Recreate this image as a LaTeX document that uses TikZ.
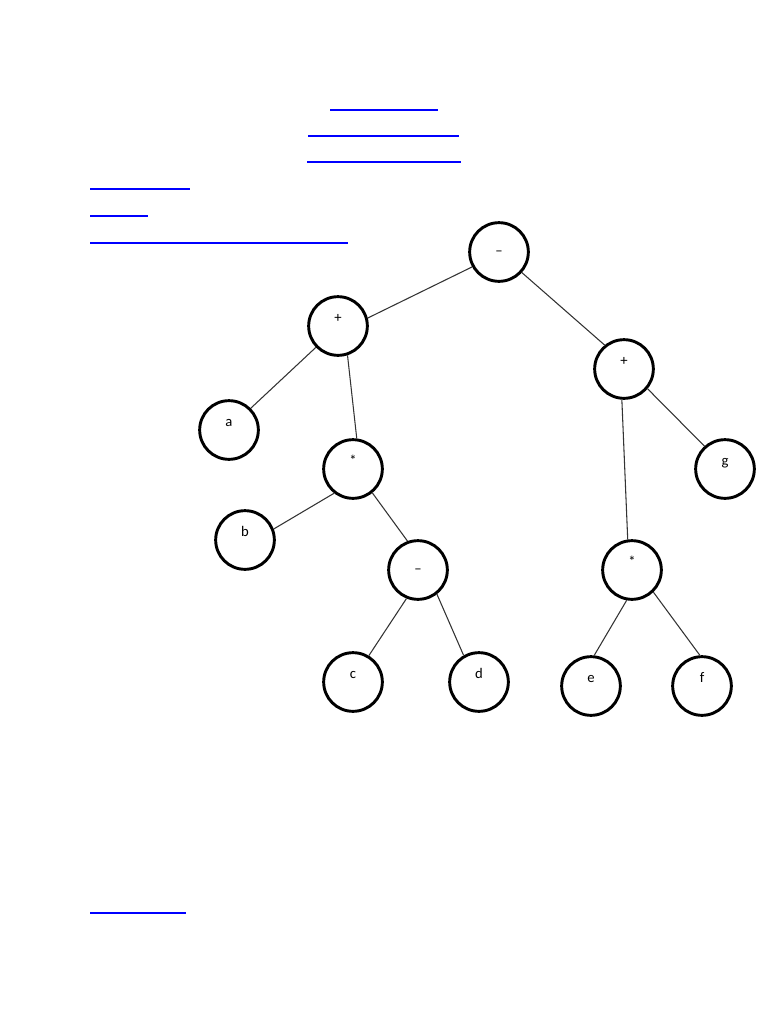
\documentclass[tikz,border=0pt]{standalone}
\usepackage{fontspec}
\setmainfont{Carlito}
\usepackage{tikz}

\begin{document}
\begin{tikzpicture}[x=0.75pt,y=-0.75pt,
  opnode/.style={circle,draw,line width=2.2pt,minimum size=44pt,inner sep=0pt,
    font=\fontsize{11}{13}\selectfont,text height=7pt,text depth=12pt},
  dashnode/.style={opnode,text depth=1.5pt},
  branch/.style={line width=0.8pt,draw=black!80},
  link/.style={blue,line width=1.9pt},
  thinlink/.style={blue,line width=1.1pt}]

\useasboundingbox (0,0) rectangle (768,1024);

% blue underlines
\draw[thinlink] (330,110) -- (438,110);
\draw[link] (308,136) -- (459,136);
\draw[link] (307,162) -- (461,162);
\draw[link] (90,189) -- (190,189);
\draw[link] (90,216) -- (148,216);
\draw[thinlink] (90,243) -- (348,243);
\draw[link] (90,913) -- (186,913);

% expression tree nodes
\node[dashnode] (minusT) at (499,252) {–};
\node[opnode] (plusL) at (338,326) {+};
\node[opnode] (plusR) at (624,369) {+};
\node[opnode] (a) at (229,430) {a};
\node[opnode] (g) at (725,469) {g};
\node[opnode] (starL) at (353,469) {*};
\node[opnode] (b) at (245,540) {b};
\node[dashnode] (minusB) at (418,570) {–};
\node[opnode] (starR) at (632,570) {*};
\node[opnode] (c) at (353,682) {c};
\node[opnode] (d) at (479,682) {d};
\node[opnode] (e) at (591,686) {e};
\node[opnode] (f) at (702,686) {f};

% branches
\draw[branch] (minusT.209) -- (plusL.15);
\draw[branch] (minusT.-42) -- (plusR.129);
\draw[branch] (plusL.224) -- (a.45);
\draw[branch] (plusL.-72) -- (starL.83);
\draw[branch] (plusR.-94) -- (starR.98);
\draw[branch] (plusR.-40) -- (g.132);
\draw[branch] (starL.232) -- (b.21);
\draw[branch] (starL.-51) -- (minusB.110);
\draw[branch] (minusB.248) -- (c.59);
\draw[branch] (minusB.-52) -- (d.120);
\draw[branch] (starR.260) -- (e.84);
\draw[branch] (starR.-46) -- (f.94);

\end{tikzpicture}
\end{document}
